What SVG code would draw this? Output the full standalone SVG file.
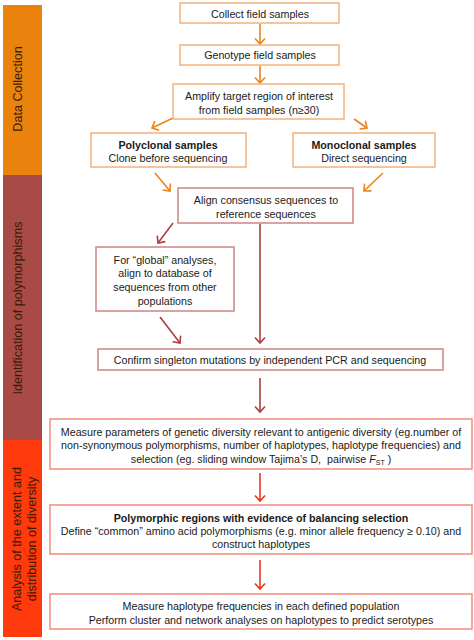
<svg xmlns="http://www.w3.org/2000/svg" width="474" height="640" viewBox="0 0 474 640">
<style>
text{font-family:"Liberation Sans",Arial,sans-serif;font-size:10.7px;fill:#1a1a1a;text-anchor:middle}
.b{font-weight:bold}
.bar{font-size:12.6px;fill:#3a1c08}
.o{fill:#fff;stroke:#F4B07A;stroke-width:1.5}
.p{fill:#fff;stroke:#CC8585;stroke-width:1.5}
.r{fill:#fff;stroke:#F28C7C;stroke-width:1.5}
.ao{stroke:#E8851E;stroke-width:1.6;fill:none}
.ap{stroke:#A8403E;stroke-width:1.6;fill:none}
.ar{stroke:#E8371E;stroke-width:1.6;fill:none}
</style>
<defs>
<marker id="mo" markerWidth="10" markerHeight="12" refX="7" refY="6" orient="auto" markerUnits="userSpaceOnUse"><path d="M1.5,1 L7,6 L1.5,11" fill="none" stroke="#E8851E" stroke-width="1.6"/></marker>
<marker id="mp" markerWidth="10" markerHeight="12" refX="7" refY="6" orient="auto" markerUnits="userSpaceOnUse"><path d="M1.5,1 L7,6 L1.5,11" fill="none" stroke="#A8403E" stroke-width="1.6"/></marker>
<marker id="mr" markerWidth="10" markerHeight="12" refX="7" refY="6" orient="auto" markerUnits="userSpaceOnUse"><path d="M1.5,1 L7,6 L1.5,11" fill="none" stroke="#E8371E" stroke-width="1.6"/></marker>
</defs>
<rect width="474" height="640" fill="#fff"/>
<g id="bars">
<rect x="3" y="5" width="39" height="170" fill="#E9830E"/>
<rect x="3" y="175" width="39" height="265" fill="#A84A45"/>
<rect x="3" y="440" width="39" height="197" fill="#FF3A0C"/>
<text class="bar" transform="translate(21.5,89) rotate(-90)">Data Collection</text>
<text class="bar" transform="translate(21.5,308) rotate(-90)">Identification of polymorphisms</text>
<text class="bar" transform="translate(21,539) rotate(-90)">Analysis of the extent and</text>
<text class="bar" transform="translate(35.5,539) rotate(-90)">distribution of diversity</text>
</g>
<g id="connectors">
<line class="ao" x1="260" y1="24" x2="260" y2="44" marker-end="url(#mo)"/>
<line class="ao" x1="260" y1="66" x2="260" y2="83" marker-end="url(#mo)"/>
<line class="ao" x1="173" y1="118" x2="152" y2="128" marker-end="url(#mo)"/>
<line class="ao" x1="354" y1="119" x2="367" y2="128" marker-end="url(#mo)"/>
<line class="ao" x1="155" y1="173" x2="170" y2="191" marker-end="url(#mo)"/>
<line class="ao" x1="383" y1="173" x2="364" y2="191" marker-end="url(#mo)"/>
<line class="ap" x1="173" y1="223" x2="158" y2="243" marker-end="url(#mp)"/>
<line class="ap" x1="260" y1="224" x2="260" y2="343" marker-end="url(#mp)"/>
<line class="ap" x1="160" y1="317" x2="180" y2="343" marker-end="url(#mp)"/>
<line class="ap" x1="260" y1="378" x2="260" y2="412" marker-end="url(#mp)"/>
<line class="ar" x1="260" y1="473" x2="260" y2="501" marker-end="url(#mr)"/>
<line class="ar" x1="260" y1="560" x2="260" y2="589" marker-end="url(#mr)"/>
</g>
<g id="collect"><rect class="o" x="180" y="3" width="159" height="20"/><text x="260" y="17.5">Collect field samples</text></g>
<g id="genotype"><rect class="o" x="180" y="45" width="159" height="20"/><text x="260" y="59">Genotype field samples</text></g>
<g id="amplify"><rect class="o" x="173" y="84" width="171" height="35"/><text x="259" y="100">Amplify target region of interest</text><text x="259" y="113.5">from field samples (n≥30)</text></g>
<g id="polyclonal"><rect class="o" x="91" y="133" width="155" height="34"/><text class="b" x="168" y="148.5">Polyclonal samples</text><text x="168" y="162">Clone before sequencing</text></g>
<g id="monoclonal"><rect class="o" x="293" y="133" width="142" height="34"/><text class="b" x="364" y="148.5">Monoclonal samples</text><text x="364" y="162">Direct sequencing</text></g>
<g id="align"><rect class="p" x="178" y="188" width="175" height="35"/><text x="266" y="204">Align consensus sequences to</text><text x="266" y="217.5">reference sequences</text></g>
<g id="global"><rect class="p" x="96" y="247" width="138" height="64"/><text x="165" y="263.5">For “global” analyses,</text><text x="165" y="277">align to database of</text><text x="165" y="290.5">sequences from other</text><text x="165" y="304.5">populations</text></g>
<g id="confirm"><rect class="p" x="98" y="349" width="345" height="21"/><text x="270" y="363.5">Confirm singleton mutations by independent PCR and sequencing</text></g>
<g id="measure"><rect class="r" x="50" y="419" width="422" height="50"/><text x="261" y="435.5">Measure parameters of genetic diversity relevant to antigenic diversity (eg.number of</text><text x="261" y="449">non-synonymous polymorphisms, number of haplotypes, haplotype frequencies) and</text><text x="261" y="462.5">selection (eg. sliding window Tajima’s D,&#160; pairwise <tspan font-style="italic">F</tspan><tspan font-size="7" dy="2">ST</tspan><tspan dy="-2"> )</tspan></text></g>
<g id="polymorphic"><rect class="r" x="50" y="505" width="422" height="49"/><text class="b" x="261" y="521.5">Polymorphic regions with evidence of balancing selection</text><text x="261" y="535">Define “common” amino acid polymorphisms (e.g. minor allele frequency ≥ 0.10) and</text><text x="261" y="548">construct haplotypes</text></g>
<g id="haplotype"><rect class="r" x="50" y="594" width="422" height="35"/><text x="261" y="609.5">Measure haplotype frequencies in each defined population</text><text x="261" y="623.5">Perform cluster and network analyses on haplotypes to predict serotypes</text></g>
</svg>
